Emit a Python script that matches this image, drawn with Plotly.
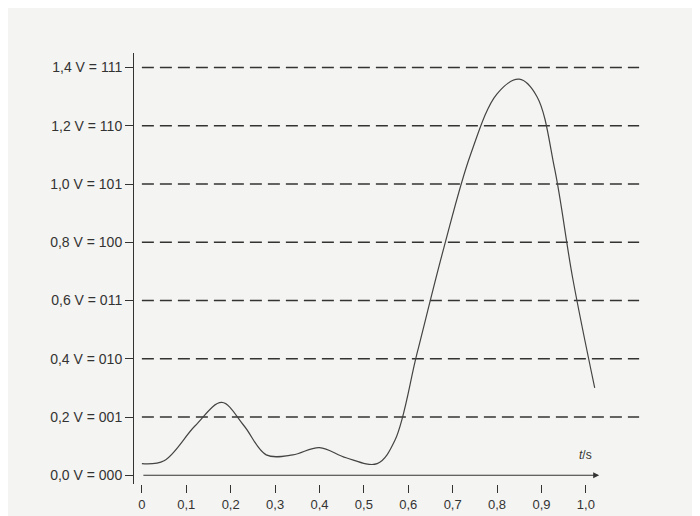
import plotly.graph_objects as go

curve_t = [0.0, 0.05, 0.12, 0.18, 0.23, 0.28, 0.34, 0.40, 0.46, 0.53, 0.57, 0.62, 0.68, 0.74, 0.80, 0.85, 0.89, 0.93, 0.97, 1.02]
curve_v = [0.04, 0.05, 0.17, 0.25, 0.17, 0.07, 0.07, 0.095, 0.06, 0.04, 0.12, 0.42, 0.78, 1.10, 1.31, 1.36, 1.30, 1.05, 0.68, 0.30]

levels = [0.0, 0.2, 0.4, 0.6, 0.8, 1.0, 1.2, 1.4]
level_labels = ["0,0 V = 000", "0,2 V = 001", "0,4 V = 010", "0,6 V = 011",
                "0,8 V = 100", "1,0 V = 101", "1,2 V = 110", "1,4 V = 111"]
t_ticks = [0.0, 0.1, 0.2, 0.3, 0.4, 0.5, 0.6, 0.7, 0.8, 0.9, 1.0]
t_labels = ["0", "0,1", "0,2", "0,3", "0,4", "0,5", "0,6", "0,7", "0,8", "0,9", "1,0"]

fig = go.Figure()
for lv in levels[1:]:
    fig.add_trace(go.Scatter(x=[0, 1.12], y=[lv, lv], mode="lines",
                             line=dict(color="#333", width=1.4, dash="12px,6px"),
                             hoverinfo="skip", showlegend=False))
fig.add_trace(go.Scatter(x=curve_t, y=curve_v, mode="lines", line_shape="spline",
                         line=dict(color="#444", width=1.2), showlegend=False))

fig.add_annotation(x=1.03, y=0.0, ax=0.0, ay=0.0, xref="x", yref="y", axref="x", ayref="y",
                   showarrow=True, arrowhead=2, arrowsize=1, arrowwidth=1.2, arrowcolor="#333", text="")
fig.add_annotation(x=1.0, y=0.07, text="<i>t</i>/s", showarrow=False, font=dict(size=12, color="#333"))

fig.update_layout(
    width=700, height=516,
    paper_bgcolor="#f4f4f2", plot_bgcolor="#f4f4f2",
    margin=dict(l=125, r=60, t=45, b=40),
    font=dict(family="Liberation Sans, Arial", size=14, color="#333"),
    xaxis=dict(range=[-0.02, 1.14], tickvals=t_ticks, ticktext=t_labels, showgrid=False,
               zeroline=False, showline=False, ticks="outside", ticklen=8, tickcolor="#333",
               tickfont=dict(size=13)),
    yaxis=dict(range=[-0.03, 1.45], tickvals=levels, ticktext=level_labels, showgrid=False,
               zeroline=False, showline=True, linecolor="#333", ticks="outside", ticklen=8,
               tickcolor="#333", anchor="free", position=0.0),
)
fig.write_html("out.html")
